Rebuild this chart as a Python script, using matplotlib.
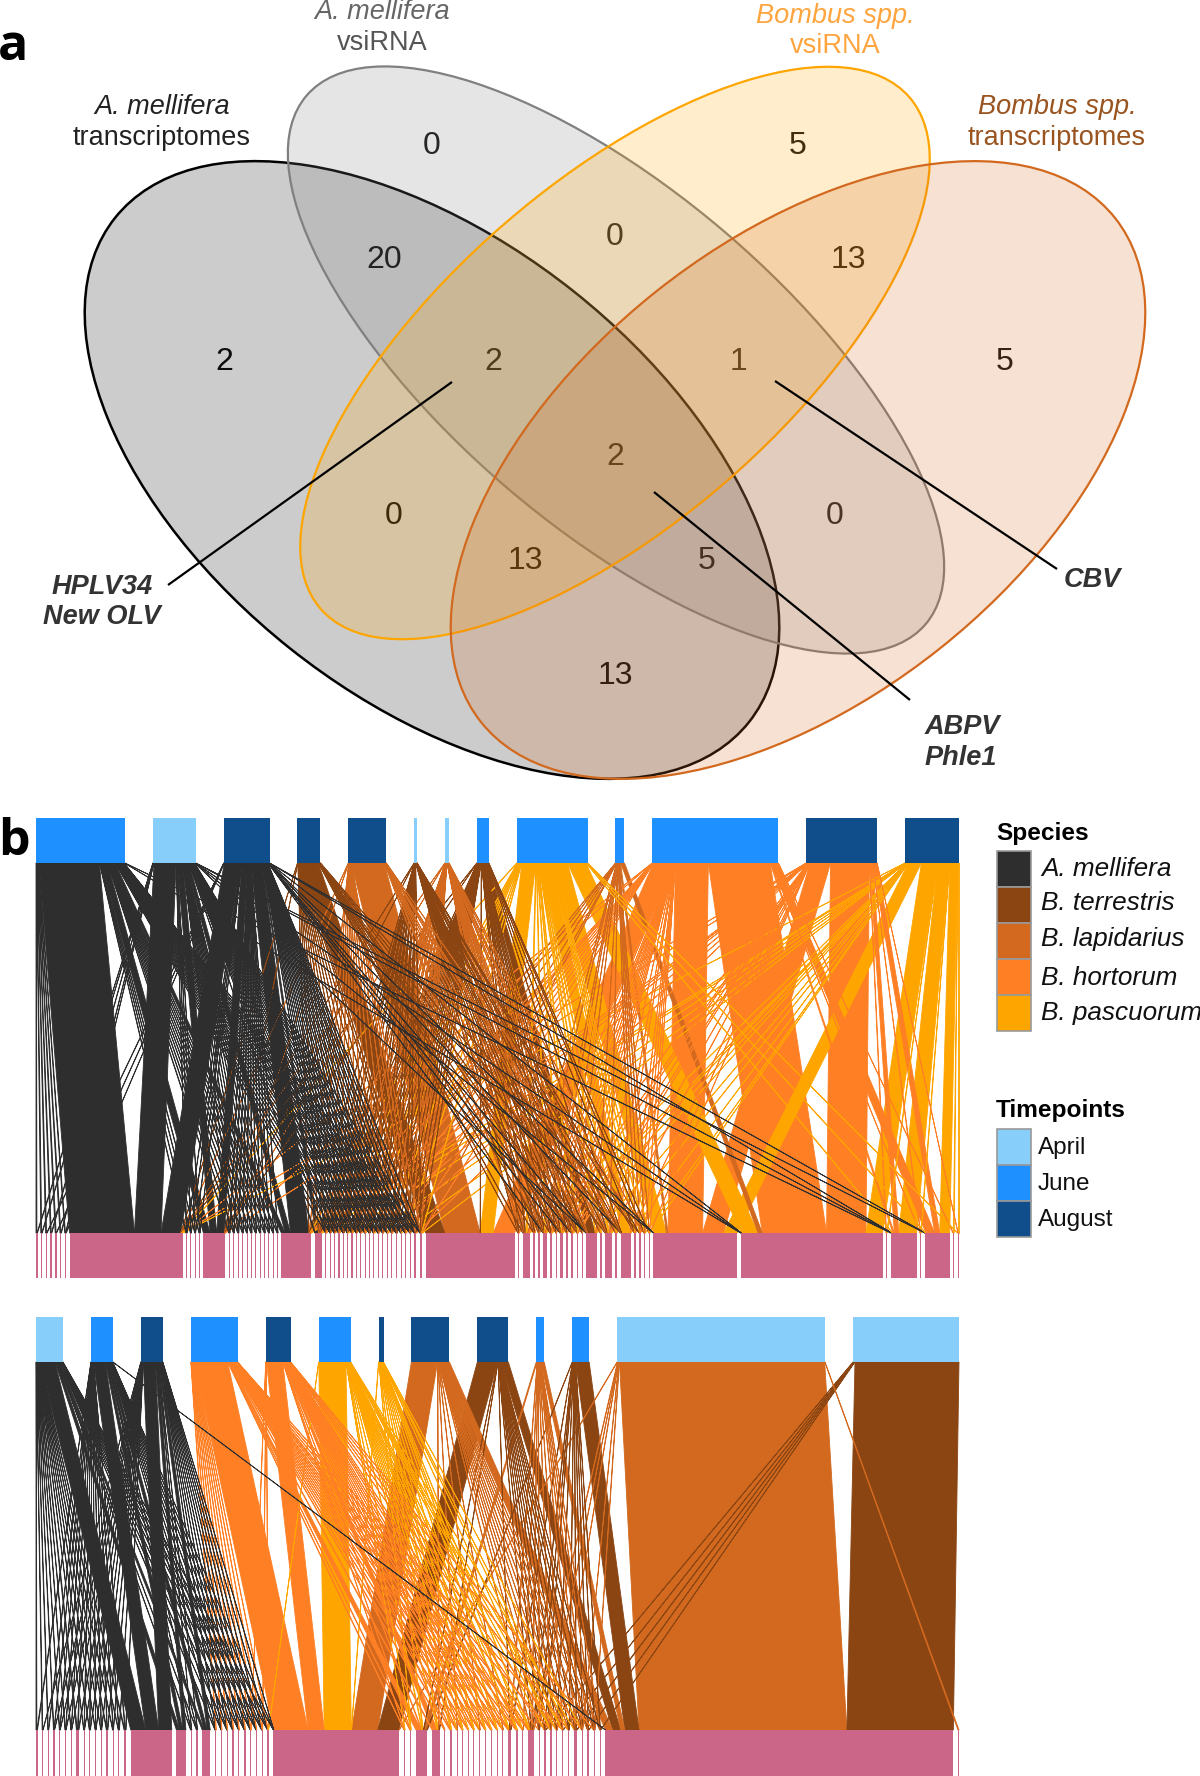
#!/usr/bin/env python3
"""Venn diagram of virus detection plus two bipartite host/virus webs"""

import matplotlib
matplotlib.use('Agg')
import matplotlib.pyplot as plt
from matplotlib.patches import Ellipse, Polygon, Rectangle

plt.rcParams['font.family'] = ['Liberation Sans', 'DejaVu Sans']

# Panel a: counts of viruses per Venn region
venn_counts = [0, 5, 20, 0, 13, 2, 2, 1, 5, 0, 2, 0, 13, 5, 13]

# Colours
SPECIES = ['A. mellifera', 'B. terrestris', 'B. lapidarius', 'B. hortorum', 'B. pascuorum']
SPECIES_COL = ['#2E2E2E', '#8B4513', '#D2691E', '#FF7F24', '#FFA500']
MONTHS = ['April', 'June', 'August']
MONTH_COL = ['#87CEFA', '#1E90FF', '#104E8B']
VIRUS_COL = '#CC6688'

# Panel b, upper web: one block per sample group
p1_species = [0, 0, 0, 1, 2, 1, 2, 1, 4, 2, 3, 3, 4]
p1_month = [1, 0, 2, 2, 2, 0, 0, 1, 1, 1, 1, 2, 2]
p1_top = [89, 43, 46, 23, 38, 3, 4, 12, 71, 9, 126, 71, 54]
p1_bottom = [1.5, 1.5, 1.5, 1.5, 1.5, 1.5, 1.5, 113, 1.2, 1, 1, 1.2, 22,
             1.3, 1, 1.3, 1, 1, 1.2, 1, 1.3, 1, 1, 1, 1, 30, 7.5,
             1, 1, 1, 1.2, 1, 1, 1.2, 1, 1, 1, 1.2, 1, 1.5, 1, 1.5, 1, 1.5, 1, 1.5, 1, 2.5, 2.5,
             89, 1.5, 7.5, 1.5, 1.5, 3.5, 2.5, 1, 3, 1.5, 2.5, 1.5, 1,
             11, 1.5, 7, 2, 10.5, 1.5, 1.5, 1.5, 1.2, 84, 142, 1.5, 26, 1.5, 25, 1.2, 1.5]
p1_big = [
    {7: 66, 12: 7, 25: 3},
    {7: 27, 12: 7, 25: 4},
    {7: 20, 12: 8, 25: 14, 26: 1},
    {49: 18},
    {49: 33},
    {},
    {},
    {62: 6},
    {49: 12, 66: 9, 71: 12, 72: 16},
    {71: 1.5, 72: 4},
    {49: 20, 71: 33, 72: 62, 74: 1, 76: 7},
    {71: 20, 72: 38, 74: 3, 76: 4},
    {71: 13, 72: 16, 74: 12, 76: 8, 78: 1},
]
p1_thin = [
    [0, 1, 2, 3, 4, 5, 6, 8, 9, 10, 11, 13, 14, 15, 16, 17, 18, 19, 20, 21, 22, 23, 24, 27, 28, 29, 30,
     31, 32, 33, 34, 35, 36, 37, 38, 39, 40, 41, 42, 43, 44, 45, 46, 47, 48, 72, 74],
    [0, 1, 3, 5, 6, 8, 9, 10, 11, 13, 14, 15, 16, 17, 18, 19, 20, 21, 22, 23, 24, 26, 27, 28, 29, 30, 31,
     32, 33, 34, 35, 36, 37, 38, 39, 40, 41, 42, 43, 44, 45, 46, 47, 48, 62, 71, 72, 74, 76],
    [2, 4, 6, 8, 9, 10, 11, 13, 14, 15, 16, 17, 18, 19, 20, 21, 22, 23, 24, 27, 28, 29, 30, 31, 32, 33,
     34, 35, 36, 37, 38, 39, 40, 41, 42, 43, 44, 45, 46, 47, 48, 54, 57, 59, 62, 66, 71, 72, 74, 76],
    [7, 12, 25, 26, 27, 29, 31, 33, 35, 37, 39, 41, 43, 45, 47, 48, 50, 51, 52, 54, 55, 57, 59, 60, 62, 64, 66, 68],
    [7, 12, 25, 26, 28, 30, 32, 34, 36, 38, 40, 42, 44, 46, 47, 48, 51, 53, 54, 56, 58, 60, 62, 64, 65, 66, 69],
    [7, 12, 25, 26, 27, 28, 30, 31, 33, 34, 36, 37, 39, 40, 42, 43, 45, 46, 48, 50, 51, 52, 53, 54, 55, 56, 57,
     58, 59, 60, 61, 62, 63, 64, 65, 66, 67, 68],
    [7, 12, 26, 27, 28, 30, 31, 33, 34, 36, 37, 39, 40, 42, 43, 45, 46, 47, 48, 50, 51, 52, 53, 54, 55, 56, 57,
     58, 59, 60, 61, 62, 63, 64, 65, 66, 67, 69],
    [7, 12, 25, 26, 27, 28, 29, 30, 31, 32, 33, 34, 35, 36, 37, 38, 39, 40, 41, 42, 43, 44, 45, 46, 47, 48, 49,
     50, 51, 52, 53, 54, 55, 56, 57, 58, 59, 60, 61, 64, 66, 67, 69, 70],
    [7, 25, 27, 30, 33, 36, 41, 45, 48, 51, 54, 57, 59, 60, 62, 63, 64, 65, 67, 68, 69, 70, 74, 76, 78],
    [25, 28, 34, 40, 46, 48, 50, 51, 54, 55, 57, 59, 62, 64, 66, 67, 68, 69, 70],
    [7, 12, 25, 26, 27, 30, 33, 36, 39, 42, 45, 48, 50, 51, 52, 53, 54, 55, 56, 57, 58, 59, 60, 61, 62, 64, 65,
     66, 67, 68, 69, 70, 74, 75, 77],
    [7, 12, 25, 26, 29, 35, 41, 47, 51, 54, 55, 57, 59, 60, 62, 64, 66, 68, 70, 73, 75, 78],
    [7, 25, 26, 32, 38, 44, 48, 51, 54, 55, 57, 59, 62, 64, 66, 69, 70, 73, 75, 77],
]
p1_thin_w = [0.45, 0.3, 0.25, 0.18, 0.18, 0.16, 0.2, 0.22, 0.5, 0.2, 0.1, 0.2, 0.2]

# Panel b, lower web
p2_species = [0, 0, 0, 3, 3, 4, 4, 2, 1, 2, 1, 2, 1]
p2_month = [0, 1, 2, 1, 2, 1, 2, 2, 2, 1, 1, 0, 0]
p2_top = [27, 22, 22, 47, 25, 32, 5, 38, 31, 8, 17, 208, 106]
p2_bottom = [1.5, 1, 1, 1.2, 1, 1.2, 1, 2.5, 1, 1.2, 1, 1, 1.5, 1, 1.3, 2,
             41, 9.5, 1.2, 1.2, 8,
             1.5, 1, 1, 1.5, 1, 1.5, 1, 1, 1.2, 1.2,
             126, 1.2, 1.5, 11.5, 7.5,
             1, 2, 1, 1, 1, 1, 1.2, 1, 1.5, 1, 1, 3, 2, 1, 6,
             1, 1.5, 1.2, 1.2, 1.2, 1.5, 3, 1, 1.5, 1.5, 1,
             348, 1]
p2_big = [
    {16: 16, 17: 3, 20: 2},
    {16: 14, 17: 3, 20: 3},
    {16: 14, 17: 3, 20: 3},
    {31: 34, 34: 2},
    {31: 16, 35: 2},
    {31: 27},
    {},
    {31: 26, 62: 7},
    {31: 21, 62: 8},
    {34: 1, 62: 4},
    {62: 14},
    {62: 205},
    {62: 105},
]
p2_thin = [
    [0, 1, 2, 3, 4, 5, 6, 7, 8, 9, 10, 11, 12, 13, 14, 15, 18, 19, 21, 22, 23, 24, 25, 26, 27, 28, 29, 30, 31],
    [0, 2, 3, 4, 5, 6, 7, 8, 9, 10, 11, 12, 13, 14, 15, 18, 19, 21, 22, 23, 24, 25, 26, 27, 28, 29, 30, 31, 62],
    [1, 3, 4, 5, 6, 7, 8, 9, 10, 11, 12, 13, 14, 15, 18, 19, 21, 22, 23, 24, 25, 26, 27, 28, 29, 30, 31],
    [21, 22, 23, 24, 25, 26, 27, 28, 29, 30, 32, 33, 35, 36, 37, 38, 39, 40, 41, 42, 43, 44, 45, 46, 47, 48, 49,
     50, 51, 53, 55],
    [27, 29, 30, 32, 33, 34, 35, 36, 37, 38, 39, 40, 41, 42, 43, 44, 45, 46, 47, 48, 49, 50, 52, 54, 56, 58, 60],
    [30, 32, 33, 34, 35, 37, 38, 39, 40, 41, 42, 43, 44, 45, 46, 47, 48, 49, 50, 52, 53, 54, 55, 57],
    [31, 33, 34, 35, 37, 39, 41, 43, 45, 47, 48, 49, 50, 53, 55, 56, 58],
    [31, 35, 38, 42, 46, 50, 51, 52, 53, 54, 55, 56, 57, 58, 59, 60, 61],
    [34, 35, 47, 50, 51, 52, 53, 54, 55, 56, 57, 58, 59, 60, 61],
    [47, 49, 50, 51, 53, 55, 57, 58, 59, 60, 61],
    [34, 47, 50, 51, 52, 54, 56, 57, 58, 59, 60, 61],
    [31, 50, 52, 54, 58, 60, 63],
    [52, 55, 57, 59, 61],
]
p2_thin_w = [0.27, 0.2, 0.2, 0.4, 0.25, 0.2, 0.3, 0.3, 0.2, 0.4, 0.3, 0.4, 0.4]


def spread(sizes, left, right):
    """left edge of each block, with one even gap between blocks"""
    gap = (right - left - sum(sizes)) / (len(sizes) - 1)
    edges = []
    x = left
    for s in sizes:
        edges.append(x)
        x += s + gap
    return edges


def draw_web(ax, top, bottom, big, thin, thin_w, species, month, y_top, y_link_top, y_link_bot, y_bot):
    # collect all links as (row, col, weight, is_thin)
    links = []
    for r in range(len(top)):
        for c, w in big[r].items():
            links.append((r, c, w, False))
        for c in thin[r]:
            if c not in big[r]:
                links.append((r, c, thin_w[r], True))
    row_sum = [sum(l[2] for l in links if l[0] == r) for r in range(len(top))]
    col_sum = [sum(l[2] for l in links if l[1] == c) for c in range(len(bottom))]

    top_x = spread(top, XL, XR)
    bot_x = spread(bottom, XL, XR)

    # link ends are stacked in a block by the order of the other side
    top_pos = {}
    for r in range(len(top)):
        x = top_x[r]
        for l in sorted([l for l in links if l[0] == r], key=lambda l: l[1]):
            dx = l[2] / row_sum[r] * top[r]
            top_pos[(l[0], l[1])] = (x, x + dx)
            x += dx
    bot_pos = {}
    for c in range(len(bottom)):
        x = bot_x[c]
        for l in sorted([l for l in links if l[1] == c], key=lambda l: l[0]):
            dx = l[2] / col_sum[c] * bottom[c] if col_sum[c] else 0
            bot_pos[(l[0], l[1])] = (x, x + dx)
            x += dx

    # wide bands first, biggest at the back, thin lines on top
    order = sorted(links, key=lambda l: (1, l[1], l[0]) if l[3] else (0, -l[2], 0))
    for l in order:
        t0, t1 = top_pos[(l[0], l[1])]
        b0, b1 = bot_pos[(l[0], l[1])]
        col = SPECIES_COL[species[l[0]]]
        ax.add_patch(Polygon([(t0, y_link_top), (t1, y_link_top), (b1, y_link_bot), (b0, y_link_bot)],
                             closed=True, facecolor=col, edgecolor=col, lw=0.6, zorder=3))

    for r in range(len(top)):
        ax.add_patch(Rectangle((top_x[r], y_top), top[r], y_link_top - y_top,
                               facecolor=MONTH_COL[month[r]], edgecolor='none', zorder=4))
    for c in range(len(bottom)):
        ax.add_patch(Rectangle((bot_x[c], y_link_bot), bottom[c], y_bot - y_link_bot,
                               facecolor=VIRUS_COL, edgecolor='none', zorder=4))


XL, XR = 36, 959

fig = plt.figure(figsize=(12, 17.76), dpi=100)
ax = fig.add_axes([0, 0, 1, 1])
ax.set_xlim(0, 1200)
ax.set_ylim(1776, 0)
ax.axis('off')

# Panel a ---------------------------------------------------------------
count_pos = [(432, 146), (798, 146), (384, 260), (615, 237), (848, 260), (224, 362), (493, 362),
             (738, 362), (1005, 362), (394, 516), (615, 457), (835, 516), (525, 561), (707, 561), (615, 676)]
for (x, y), n in zip(count_pos, venn_counts):
    ax.text(x, y, str(n), ha='center', va='center', fontsize=23, color='#111111', zorder=1)

# numbers sit under the translucent ellipses, so they pick up the tint
ellipses = [
    ((432, 470), 810, 456, 38.5, '#000000', 1.8),
    ((616, 360), 814, 336, 40.5, '#808080', 1.6),
    ((615, 353), 780, 340, -41, '#FFA500', 1.6),
    ((798, 470), 810, 456, -38.5, '#D2691E', 1.6),
]
for center, w, h, ang, col, lw in ellipses:
    ax.add_patch(Ellipse(center, w, h, angle=ang, facecolor=col, alpha=0.2, edgecolor='none', zorder=2))
    ax.add_patch(Ellipse(center, w, h, angle=ang, facecolor='none', edgecolor=col, lw=lw, zorder=2))

set_labels = [
    (162, 107, 'A. mellifera', 'italic', '#222222'),
    (162, 138, 'transcriptomes', 'normal', '#222222'),
    (382, 12, 'A. mellifera', 'italic', '#666666'),
    (382, 43, 'vsiRNA', 'normal', '#555555'),
    (835, 16, 'Bombus spp.', 'italic', '#FFA540'),
    (835, 46, 'vsiRNA', 'normal', '#FFA540'),
    (1057, 107, 'Bombus spp.', 'italic', '#9A5420'),
    (1057, 138, 'transcriptomes', 'normal', '#9A5420'),
]
for x, y, s, style, col in set_labels:
    ax.text(x, y, s, ha='center', va='center', fontsize=19.5, style=style, color=col, zorder=5)

leaders = [((452, 382), (168, 585)), ((775, 381), (1057, 569)), ((654, 492), (910, 700))]
for (x0, y0), (x1, y1) in leaders:
    ax.plot([x0, x1], [y0, y1], color='black', lw=1.6, zorder=5, solid_capstyle='butt')

virus_labels = [(102, 587, 'HPLV34'), (102, 617, 'New OLV'), (1092, 580, 'CBV'),
                (962, 727, 'ABPV'), (961, 758, 'Phle1')]
for x, y, s in virus_labels:
    ax.text(x, y, s, ha='center', va='center', fontsize=19.5, style='italic', fontweight='bold',
            color='#333333', zorder=5)

ax.text(-2, 60, 'a', fontsize=36, fontweight='bold', family='Open Sans', color='black', va='baseline')
ax.text(-2, 855, 'b', fontsize=36, fontweight='bold', family='Open Sans', color='black', va='baseline')

# Panel b webs ----------------------------------------------------------
draw_web(ax, p1_top, p1_bottom, p1_big, p1_thin, p1_thin_w, p1_species, p1_month, 818, 863, 1233, 1278)
draw_web(ax, p2_top, p2_bottom, p2_big, p2_thin, p2_thin_w, p2_species, p2_month, 1317, 1362, 1730, 1776)

# Legends ---------------------------------------------------------------
ax.text(996, 833, 'Species', fontsize=17.6, fontweight='bold', va='center')
species_y = [869, 903, 939, 978, 1013]
for i, (name, col) in enumerate(zip(SPECIES, SPECIES_COL)):
    ax.add_patch(Rectangle((997, 851 + i * 36), 34, 36, facecolor=col, edgecolor='#999999', lw=1.2))
    ax.text(1041, species_y[i], name, fontsize=18.8, style='italic', va='center', color='#111111')

ax.text(996, 1110, 'Timepoints', fontsize=17.6, fontweight='bold', va='center')
month_y = [1148, 1184, 1220]
for i, (name, col) in enumerate(zip(MONTHS, MONTH_COL)):
    ax.add_patch(Rectangle((997, 1129 + i * 36), 34, 36, facecolor=col, edgecolor='#999999', lw=1.2))
    ax.text(1038, month_y[i], name, fontsize=17.5, va='center', color='#111111')

fig.savefig('out.png', dpi=100, facecolor='white')
